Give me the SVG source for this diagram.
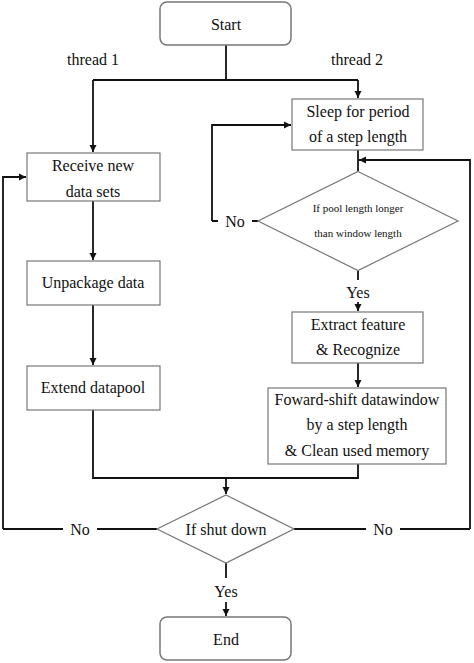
<svg xmlns="http://www.w3.org/2000/svg" width="474" height="663" viewBox="0 0 474 663">
<defs>
<marker id="ah" markerWidth="8" markerHeight="8" refX="7" refY="4" orient="auto" markerUnits="userSpaceOnUse">
<path d="M0,0.5 L7,4 L0,7.5 z" fill="#111"/>
</marker>
<style>
text{font-family:"Liberation Serif","Times New Roman",serif;font-size:16px;fill:#111;text-anchor:middle;dominant-baseline:central}
.box{fill:#fff;stroke:#777;stroke-width:1.2}
.term{fill:#fff;stroke:#777;stroke-width:1.5}
.c{fill:none;stroke:#111;stroke-width:1.8}
.a{marker-end:url(#ah)}
.small{font-size:11px}
</style>
</defs>
<rect width="474" height="663" fill="#fff"/>
<g id="connectors">
<path class="c" d="M226,45 V80 M93,80 H358"/>
<path class="c a" d="M93,80 V152"/>
<path class="c a" d="M358,80 V98"/>
<path class="c a" d="M93,201 V260"/>
<path class="c a" d="M93,305 V365"/>
<path class="c" d="M93,410 V478 H358 V464"/>
<path class="c a" d="M226,478 V494"/>
<path class="c" d="M358,150 V171"/>
<path class="c a" d="M470,529 V160 H359"/>
<path class="c" d="M294,529 H366 M400,529 H470"/>
<path class="c" d="M157,529 H97 M63,529 H3"/>
<path class="c a" d="M3,529 V177 H26"/>
<path class="c" d="M258,221 H252 M218,221 H212"/>
<path class="c a" d="M212,221 V125 H291"/>
<path class="c" d="M358,271 V280"/>
<path class="c a" d="M358,302 V311"/>
<path class="c a" d="M358,363 V387"/>
<path class="c" d="M226,563 V578"/>
<path class="c a" d="M226,602 V616"/>
<text x="235" y="221">No</text>
<text x="358" y="292">Yes</text>
<text x="80" y="529">No</text>
<text x="383" y="529">No</text>
<text x="226" y="591">Yes</text>
<text x="93" y="59">thread 1</text>
<text x="357" y="59">thread 2</text>
</g>
<g id="start">
<rect class="term" x="160" y="2" width="131" height="43" rx="7"/>
<text x="226" y="24">Start</text>
</g>
<g id="receive">
<rect class="box" x="27" y="153" width="133" height="48"/>
<text x="93" y="165">Receive new</text>
<text x="93" y="191">data sets</text>
</g>
<g id="unpackage">
<rect class="box" x="27" y="261" width="133" height="44"/>
<text x="93" y="282">Unpackage data</text>
</g>
<g id="extend">
<rect class="box" x="27" y="366" width="133" height="44"/>
<text x="93" y="387">Extend datapool</text>
</g>
<g id="sleep">
<rect class="box" x="292" y="99" width="131" height="51"/>
<text x="358" y="111">Sleep for period</text>
<text x="358" y="136">of a step length</text>
</g>
<g id="pool-check">
<polygon class="box" points="358,171.5 458,221 358,270.5 258,221"/>
<text class="small" x="358" y="208">If pool length longer</text>
<text class="small" x="358" y="233">than window length</text>
</g>
<g id="extract">
<rect class="box" x="292" y="312" width="131" height="51"/>
<text x="358" y="324">Extract feature</text>
<text x="358" y="349">&amp; Recognize</text>
</g>
<g id="forward">
<rect class="box" x="268" y="388" width="178" height="76"/>
<text x="357" y="399">Foward-shift datawindow</text>
<text x="357" y="424">by a step length</text>
<text x="357" y="450">&amp; Clean used memory</text>
</g>
<g id="shutdown">
<polygon class="box" points="226,495 294,529 226,563 157,529"/>
<text x="226" y="529">If shut down</text>
</g>
<g id="end">
<rect class="term" x="160" y="617" width="131" height="43" rx="7"/>
<text x="226" y="639">End</text>
</g>
</svg>
